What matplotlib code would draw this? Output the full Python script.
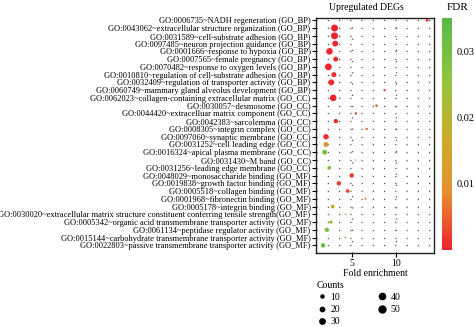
import numpy as np
import matplotlib
matplotlib.use("Agg")
import matplotlib.pyplot as plt
from matplotlib.colors import LinearSegmentedColormap
from matplotlib.lines import Line2D

plt.rcParams['font.family'] = ['Liberation Serif', 'DejaVu Serif']

# GO terms, top to bottom
terms = [
    "GO:0006735~NADH regeneration (GO_BP)",
    "GO:0043062~extracellular structure organization (GO_BP)",
    "GO:0031589~cell-substrate adhesion (GO_BP)",
    "GO:0097485~neuron projection guidance (GO_BP)",
    "GO:0001666~response to hypoxia (GO_BP)",
    "GO:0007565~female pregnancy (GO_BP)",
    "GO:0070482~response to oxygen levels (GO_BP)",
    "GO:0010810~regulation of cell-substrate adhesion (GO_BP)",
    "GO:0032409~regulation of transporter activity (GO_BP)",
    "GO:0060749~mammary gland alveolus development (GO_BP)",
    "GO:0062023~collagen-containing extracellular matrix (GO_CC)",
    "GO:0030057~desmosome (GO_CC)",
    "GO:0044420~extracelluar matrix component (GO_CC)",
    "GO:0042383~sarcolemma (GO_CC)",
    "GO:0008305~integrin complex (GO_CC)",
    "GO:0097060~synaptic membrane (GO_CC)",
    "GO:0031252~cell leading edge (GO_CC)",
    "GO:0016324~apical plasma membrane (GO_CC)",
    "GO:0031430~M band (GO_CC)",
    "GO:0031256~leading edge membrane (GO_CC)",
    "GO:0048029~monosaccharide binding (GO_MF)",
    "GO:0019838~growth factor binding (GO_MF)",
    "GO:0005518~collagen binding (GO_MF)",
    "GO:0001968~fibronectin binding (GO_MF)",
    "GO:0005178~integrin binding (GO_MF)",
    "GO:0030020~extracellular matrix structure constituent conferring tensile strength(GO_MF)",
    "GO:0005342~organic acid transmembrane transporter activity (GO_MF)",
    "GO:0061134~peptidase regulator activity (GO_MF)",
    "GO:0015144~carbohydrate transmembrane transporter activity (GO_MF)",
    "GO:0022803~passive transmembrane transporter activity (GO_MF)",
]

fold_enrichment = [13.5, 3.07, 3.07, 3.15, 2.5, 3.2, 2.37, 3.0, 2.7, 8.7,
                   2.92, 7.8, 5.48, 3.22, 6.7, 2.1, 2.1, 1.96, 5.44, 2.48,
                   5.0, 3.55, 4.55, 6.55, 2.85, 4.33, 2.67, 2.2, 4.3, 1.78]

counts = [8, 50, 50, 36, 45, 26, 48, 26, 36, 5,
          45, 6, 6, 20, 5, 30, 25, 25, 2, 15,
          20, 20, 15, 4, 15, 3, 12, 20, 3, 20]

fdr = [0.0005, 0.0001, 0.0001, 0.0005, 0.0002, 0.001, 0.0002, 0.001, 0.001, 0.002,
       0.0001, 0.002, 0.002, 0.001, 0.003, 0.001, 0.010, 0.029, 0.022, 0.027,
       0.002, 0.002, 0.003, 0.006, 0.015, 0.018, 0.024, 0.029, 0.030, 0.034]

legend_counts = [10, 20, 30, 40, 50]

fdr_cmap = LinearSegmentedColormap.from_list(
    "fdr", ["#ec2330", "#e6902e", "#c9ad2c", "#8cc540", "#58b947"])

fig = plt.figure(figsize=(4.74, 3.27), dpi=100)
ax = fig.add_axes([0.667, 0.226, 0.249, 0.719])
cax = fig.add_axes([0.932, 0.235, 0.022, 0.71])

y = np.arange(len(terms))
size_k = 0.5

# sparse dotted guides behind the points
for yi in y:
    ax.axhline(yi, color="#555555", lw=0.9, ls=(0, (1, 8)), zorder=0)
for xv in [5, 10]:
    ax.axvline(xv, color="#555555", lw=0.9, ls=(0, (1, 8)), zorder=0)

sc = ax.scatter(fold_enrichment, y, s=np.array(counts) * size_k, c=fdr,
                cmap=fdr_cmap, vmin=0.0, vmax=0.035, linewidths=0, zorder=3)

ax.set_xlim(1.0, 14.3)
ax.set_ylim(len(terms) - 1 + 1.0, -0.3)
ax.set_yticks(y)
ax.set_yticklabels(terms, fontsize=6.0)
ax.set_xticks([5, 10])
ax.tick_params(axis='x', labelsize=7, length=3, width=0.8, pad=1)
ax.tick_params(axis='y', length=3, width=0.8, pad=1)
for sp in ax.spines.values():
    sp.set_linewidth(1.0)
    sp.set_color("#222222")
ax.set_xlabel("Fold enrichment", fontsize=7, labelpad=1)

fig.text(366 / 474, 1 - 8 / 327, "Upregulated DEGs", fontsize=7,
         ha='center', va='center')

cb = fig.colorbar(sc, cax=cax)
cb.set_ticks([0.01, 0.02, 0.03])
cb.ax.tick_params(labelsize=7.5, length=0, pad=3)
cb.outline.set_visible(False)
fig.text(458 / 474, 1 - 8 / 327, "FDR", fontsize=8, ha='center', va='center')

handles = [Line2D([], [], ls='', marker='o', color='black',
                  markersize=np.sqrt(c * size_k)) for c in legend_counts]
leg = fig.legend(handles, [str(c) for c in legend_counts], title="Counts",
                 ncol=2, frameon=False, fontsize=7, title_fontsize=7,
                 loc='upper left', bbox_to_anchor=(312 / 474, 1 - 276 / 327),
                 handletextpad=0.4, columnspacing=3.8, labelspacing=0.35,
                 handlelength=1.0, borderpad=0.0, alignment='left')
leg._legend_box.sep = 2

fig.savefig("out.png", dpi=100)
